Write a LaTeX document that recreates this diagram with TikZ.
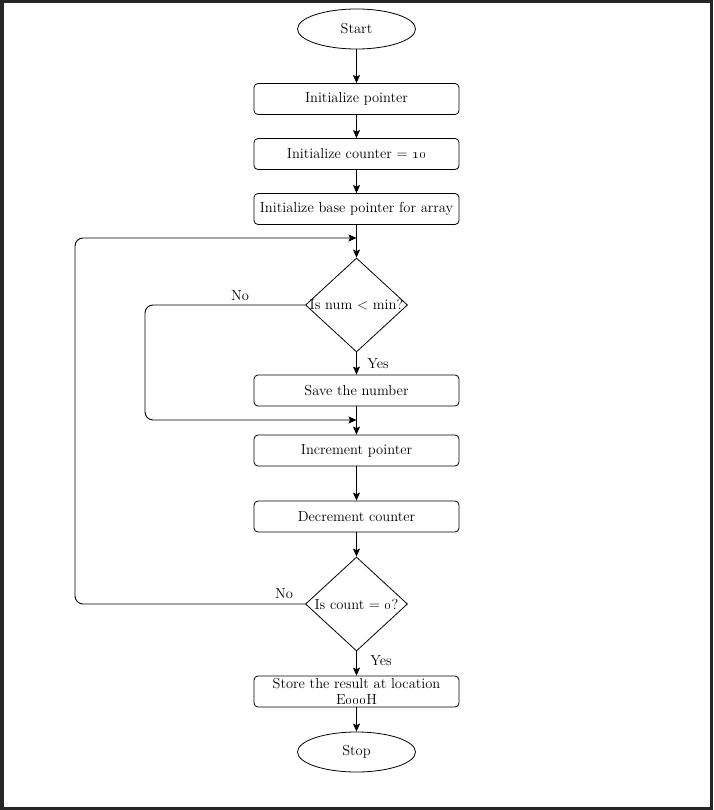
\documentclass[tikz,border=0pt]{standalone}
\usetikzlibrary{shapes.geometric,arrows.meta}
\begin{document}
\begin{tikzpicture}[x=1pt,y=-1pt,
  font=\fontsize{14.5}{16}\selectfont,
  proc/.style={draw, line width=0.8pt, rounded corners=4pt, minimum width=205pt, minimum height=31pt, inner sep=0pt, align=center},
  term/.style={draw, line width=0.8pt, ellipse, minimum width=118pt, minimum height=40pt, inner sep=0pt},
  decision/.style={draw, line width=0.8pt, diamond, minimum width=102pt, minimum height=94pt, inner sep=0pt},
  arr/.style={-{Stealth[length=8pt,width=7pt,inset=1.5pt]}, line width=0.9pt},
  lbl/.style={inner sep=0pt}]
\useasboundingbox (0,0) rectangle (713,810);
\draw[line width=3.5pt, black!85] (1.75,1.75) rectangle (711.25,808.25);

\node[term] (start) at (356.5,29) {Start};
\node[proc] (b1) at (356.5,99) {Initialize pointer};
\node[proc] (b2) at (356.5,154) {Initialize counter = \oldstylenums{10}};
\node[proc] (b3) at (356.5,209) {Initialize base pointer for array};
\node[decision, label={center:Is num < min?}] (d1) at (356.5,305) {};
\node[proc] (b4) at (356.5,390.5) {Save the number};
\node[proc] (b5) at (356.5,450.5) {Increment pointer};
\node[proc] (b6) at (356.5,516.5) {Decrement counter};
\node[decision, label={center:Is count = \oldstylenums{0}?}] (d2) at (356.5,604) {};
\node[proc] (b7) at (356.5,691.5) {Store the result at location\\E\oldstylenums{000}H};
\node[term] (stop) at (356.5,752) {Stop};

\coordinate (m1) at (356.5,238);
\coordinate (m2) at (356.5,420);
\coordinate (noA) at (145,420);
\coordinate (noB) at (75,238);

\draw[arr] (start) -- (b1);
\draw[arr] (b1) -- (b2);
\draw[arr] (b2) -- (b3);
\draw[arr] (b3) -- (d1);
\draw[arr] (d1) -- (b4);
\draw[arr] (b4) -- (b5);
\draw[arr] (b5) -- (b6);
\draw[arr] (b6) -- (d2);
\draw[arr] (d2) -- (b7);
\draw[arr] (b7) -- (stop);
\draw[arr, rounded corners=8pt] (d1.west) -| (noA) -- (m2);
\draw[arr, rounded corners=8pt] (d2.west) -| (noB) -- (m1);

\node[lbl] (no1) at (240,296) {No};
\node[lbl] (yes1) at (378,364) {Yes};
\node[lbl] (no2) at (284,594) {No};
\node[lbl] (yes2) at (381,661) {Yes};
\end{tikzpicture}
\end{document}
